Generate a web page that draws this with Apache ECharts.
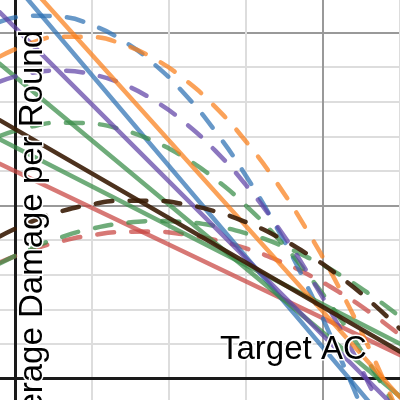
<!DOCTYPE html>
<html lang="en">
<head>
    <meta charset="UTF-8">
    <title>Average Damage per Round</title>
    <style>
        html, body { margin: 0; padding: 0; background: #fff; overflow: hidden; width: 400px; height: 400px; }
        #main { position: absolute; left: -62px; top: -2px; width: 462px; height: 415px; }
    </style>
</head>
<body>
<script src="https://cdn.jsdelivr.net/npm/echarts@6/dist/echarts.min.js"></script>
<div id="main"></div>

<script type="text/javascript">
    // target AC sample points (dashed curves) and the two ends of the straight lines
    var acPoints = [-1, 1, 3, 5, 7, 9, 11, 13, 15, 17, 19, 21, 23, 25];
    var acEnds = [-1, 25];

    // normal rolls (solid) at AC -1 and 25
    var redNormal = [12.41, 1.36];
    var blueNormal = [23.84, -3.47];
    var greenNormal = [18.20, -1.04];
    var green2Normal = [13.83, 2.00];
    var purpleNormal = [21.18, -1.96];
    var orangeNormal = [24.65, -1.09];
    var brownNormal = [14.94, 1.55];

    // rolls with advantage (dashed)
    var redAdv = [6.70, 7.40, 7.93, 8.28, 8.47, 8.49, 8.33, 8.01, 7.52, 6.85, 6.02, 5.02, 3.85, 2.50];
    var blueAdv = [20.62, 20.97, 20.91, 20.43, 19.53, 18.20, 16.46, 14.30, 11.71, 8.71, 5.29, 1.44, -2.82, -7.50];
    var greenAdv = [14.02, 14.55, 14.79, 14.73, 14.37, 13.72, 12.77, 11.53, 9.99, 8.16, 6.03, 3.60, 0.87, -2.14];
    var green2Adv = [6.64, 7.49, 8.17, 8.66, 8.97, 9.10, 9.04, 8.81, 8.39, 7.79, 7.00, 6.04, 4.89, 3.56];
    var purpleAdv = [17.16, 17.66, 17.80, 17.58, 17.02, 16.09, 14.81, 13.17, 11.18, 8.83, 6.12, 3.06, -0.36, -4.13];
    var orangeAdv = [18.61, 19.38, 19.76, 19.74, 19.32, 18.51, 17.30, 15.70, 13.70, 11.31, 8.51, 5.33, 1.74, -2.24];
    var brownAdv = [8.21, 9.04, 9.66, 10.07, 10.27, 10.27, 10.07, 9.66, 9.04, 8.21, 7.18, 5.95, 4.51, 2.86];

    var groups = [
        ['#c74440', 0.72, redNormal, redAdv],
        ['#2d70b3', 0.72, blueNormal, blueAdv],
        ['#388c46', 0.72, greenNormal, greenAdv],
        ['#388c46', 0.72, green2Normal, green2Adv],
        ['#6042a6', 0.72, purpleNormal, purpleAdv],
        ['#fa7e19', 0.72, orangeNormal, orangeAdv],
        ['#3a1c06', 0.9, brownNormal, brownAdv]
    ];

    function zip(xs, ys) {
        return xs.map(function (x, i) { return [x, ys[i]]; });
    }

    var seriesArr = [];
    groups.forEach(function (g) {
        seriesArr.push({
            type: 'line',
            data: zip(acEnds, g[2]),
            showSymbol: false,
            silent: true,
            lineStyle: {color: g[0], opacity: g[1], width: 4.5, cap: 'round'}
        });
        seriesArr.push({
            type: 'line',
            data: zip(acPoints, g[3]),
            smooth: true,
            showSymbol: false,
            silent: true,
            lineStyle: {color: g[0], opacity: g[1], width: 4.5, type: [17, 17], cap: 'round'}
        });
    });

    var light = '#dddddd', dark = '#999999';
    var myChart = echarts.init(document.getElementById('main'));
    var option = {
        backgroundColor: '#fff',
        animation: false,
        grid: {left: 0, right: 0, top: 0, bottom: 0, containLabel: false},
        xAxis: {
            type: 'value', min: -5, max: 25, interval: 5,
            axisLine: {onZero: true, lineStyle: {color: '#1a1a1a', width: 3}},
            axisTick: {show: false}, axisLabel: {show: false},
            splitLine: {lineStyle: {width: 2, color: [light, light, light, light, light, dark, light]}}
        },
        yAxis: {
            type: 'value', min: -2, max: 22, interval: 2,
            axisLine: {onZero: true, lineStyle: {color: '#1a1a1a', width: 3}},
            axisTick: {show: false}, axisLabel: {show: false},
            splitLine: {lineStyle: {width: 2, color: [light, light, light, light, light, light, dark,
                        light, light, light, light, dark, light]}}
        },
        graphic: [
            {
                type: 'text', x: 282, y: 352, z: 100, silent: true,
                style: {text: 'Target AC', font: '33px "Liberation Sans", Arial', fill: '#000',
                    align: 'left', verticalAlign: 'middle', stroke: '#fff', lineWidth: 3}
            },
            {
                type: 'text', x: 95, y: 32, rotation: Math.PI / 2, z: 100, silent: true,
                style: {text: 'Average Damage per Round', font: '33px "Liberation Sans", Arial', fill: '#000',
                    align: 'right', verticalAlign: 'middle', stroke: '#fff', lineWidth: 3}
            }
        ],
        series: seriesArr
    };
    myChart.setOption(option);
</script>
</body>
</html>
